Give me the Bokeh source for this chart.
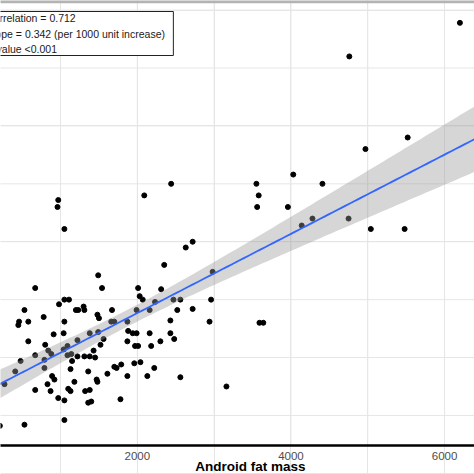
import numpy as np
from bokeh.plotting import figure
from bokeh.core.properties import value
from bokeh.embed import file_html
from bokeh.resources import INLINE

# Android fat mass (x) and outcome (y) per participant
android_fat = [
    6200, 4760, 5520, 4970, 4030, 3550, 4410, 3580, 3560, 3960,
    4140, 4280, 4750, 5040, 5480, 2440, 2090, 2720, 2630, 2350,
    2980, 970, 960, 1050, 1490, 670, 1540, 2010, 1050, 1110,
    980, 2030, 2070, 2310, 2230, 2470, 2560, 2960, 530, 1200,
    1230, 1300, 1310, 1670, 1480, 1500, 1990, 2160, 2720, 2520,
    460, 450, 580, 780, 1050, 1660, 1700, 1870, 2430, 2940,
    1040, 910, 1380, 1490, 1880, 1940, 1990, 2160, 2430, 580,
    1560, 2480, 800, 1220, 1520, 1870, 1970, 2010, 2180, 2300,
    840, 880, 1040, 1090, 1140, 1090, 1430, 670, 790, 1150,
    1220, 1310, 1380, 1450, 480, 790, 1130, 1360, 1700, 1730,
    1790, 1960, 2040, 410, 1610, 2220, 890, 920, 2130, 1870,
    2560, 1180, 1470, 1480, 830, 270, 3160, 670, 870, 1100,
    1130, 1320, 1380, 970, 1050, 1360, 1400, 1780, 1050, 530,
    210, 3590, 3640,
]
outcome = [
    3.89, 3.60, 2.90, 2.80, 2.58, 2.50, 2.50, 2.40, 2.30, 2.30,
    2.14, 2.20, 2.20, 2.11, 2.11, 2.50, 2.40, 2.00, 1.95, 1.80,
    1.74, 2.36, 2.30, 2.11, 1.71, 1.60, 1.60, 1.60, 1.50, 1.50,
    1.46, 1.53, 1.50, 1.59, 1.48, 1.50, 1.50, 1.50, 1.41, 1.41,
    1.41, 1.44, 1.41, 1.41, 1.37, 1.34, 1.41, 1.41, 1.42, 1.41,
    1.31, 1.28, 1.31, 1.35, 1.31, 1.31, 1.31, 1.31, 1.32, 1.31,
    1.21, 1.20, 1.21, 1.22, 1.23, 1.21, 1.21, 1.21, 1.21, 1.14,
    1.16, 1.16, 1.11, 1.15, 1.11, 1.14, 1.10, 1.10, 1.10, 1.14,
    1.06, 1.03, 1.07, 1.10, 1.03, 1.02, 1.06, 1.02, 0.98, 0.97,
    1.01, 1.01, 1.01, 1.00, 0.97, 0.91, 0.90, 0.88, 0.92, 0.91,
    0.94, 0.95, 0.96, 0.88, 0.86, 0.91, 0.84, 0.81, 0.84, 0.84,
    0.83, 0.79, 0.81, 0.79, 0.77, 0.77, 0.75, 0.72, 0.71, 0.73,
    0.71, 0.71, 0.72, 0.65, 0.63, 0.61, 0.62, 0.64, 0.46, 0.42,
    0.41, 1.30, 1.30,
]

x_ticks = [2000, 4000, 6000]
x_tick_labels = ["2000", "4000", "6000"]
x_grid = [1000, 2000, 3000, 4000, 5000, 6000]
y_grid = [0.5, 1.0, 1.5, 2.0, 2.5, 3.0, 3.5, 4.0]

slope_per_1000 = 0.342
intercept = 0.70
stats_lines = [
    "Correlation = 0.712",
    "Slope = 0.342 (per 1000 unit increase)",
    "P-value <0.001",
]
x_title = "Android fat mass"

FONT = "Liberation Sans"

x = np.array(android_fat, dtype=float)
y = np.array(outcome, dtype=float)

# linear fit and its 95% confidence band
slope = slope_per_1000 / 1000.0
n = len(x)
resid = y - (intercept + slope * x)
s = np.sqrt(np.sum(resid ** 2) / (n - 2))
xbar = x.mean()
sxx = np.sum((x - xbar) ** 2)
t_crit = 1.978

# the visible window of the panel; the axis line sits at y_base
x_lo, x_hi = 218, 6390
y_lo, y_hi = -0.010, 4.083
y_base = 0.240
axis_half = 0.011
y_tick_text = 0.154
y_title = 0.058
x_title_pos = 3472

xs = np.linspace(x_lo - 200, x_hi + 200, 120)
fit = intercept + slope * xs
half = t_crit * s * np.sqrt(1.0 / n + (xs - xbar) ** 2 / sxx)

p = figure(
    width=474, height=474,
    x_range=(x_lo, x_hi), y_range=(y_lo, y_hi),
    x_axis_location=None, y_axis_location=None,
    min_border=0,
    outline_line_color=None,
    background_fill_color="white", border_fill_color="white",
    output_backend="svg", toolbar_location=None,
)

# panel grid, stopping at the axis line
p.segment(x0=[x_lo - 500] * len(y_grid), x1=[x_hi + 500] * len(y_grid),
          y0=y_grid, y1=y_grid, line_color="#e6e6e6", line_width=1)
p.segment(x0=x_grid, x1=x_grid, y0=[y_base] * len(x_grid),
          y1=[y_hi + 1] * len(x_grid), line_color="#e6e6e6", line_width=1)

# observations
p.scatter(x, y, size=5, color="black")

# confidence band and fitted line
p.varea(x=xs, y1=fit - half, y2=fit + half, fill_color="#999999", fill_alpha=0.4)
p.line(xs, fit, line_color="#3366FF", line_width=1.8)

# x axis: line (as a thin filled strip), tick labels and title
edge_x = [x_lo - 500, x_hi + 500]
p.varea(x=edge_x, y1=[y_base - axis_half] * 2, y2=[y_base + axis_half] * 2,
        fill_color="#000000", fill_alpha=1.0)
p.text(x=x_ticks, y=[y_tick_text] * len(x_ticks), text=x_tick_labels,
       text_font=value(FONT), text_font_size="11.5px", text_color="#4d4d4d",
       text_align="center", text_baseline="middle")
p.text(x=[x_title_pos], y=[y_title], text=[x_title],
       text_font=value(FONT), text_font_style="bold", text_font_size="13.5px",
       text_color="black", text_align="center", text_baseline="middle")

# statistics box
p.quad(left=[-2000], right=[2469], bottom=[3.608], top=[3.988],
       fill_color="white", line_color="#222222", line_width=1)
p.text(x=[30, 30, 30], y=[3.936, 3.798, 3.660], text=stats_lines,
       text_font=value(FONT), text_font_size="10.5px", text_color="#1a1a1a",
       text_baseline="middle", text_align="left")

# thin grey strip along the top
p.varea(x=edge_x, y1=[4.060] * 2, y2=[4.2] * 2, fill_color="#b3b3b3", fill_alpha=1.0)

open("out.html", "w").write(file_html(p, INLINE))
